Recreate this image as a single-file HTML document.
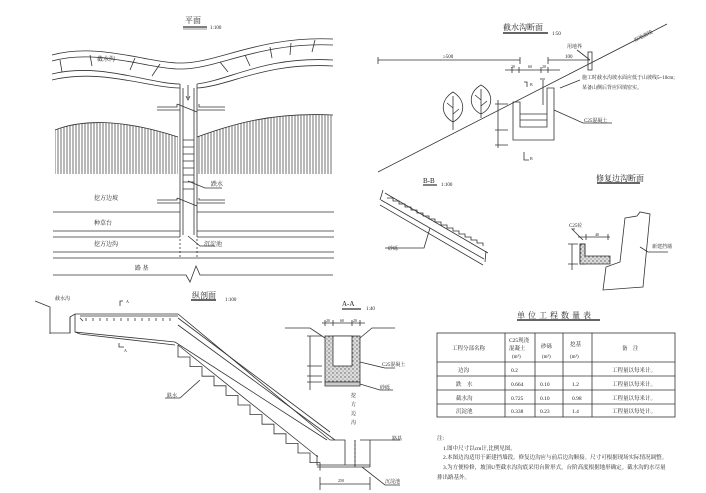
<!DOCTYPE html>
<html><head><meta charset="utf-8"><style>
html,body{margin:0;padding:0;background:#fff}
svg{display:block}
text{font-family:"Liberation Serif","Noto Serif CJK SC","Noto Sans CJK SC",serif;fill:#222}
</style></head><body>
<svg width="706" height="493" viewBox="0 0 706 493" xmlns="http://www.w3.org/2000/svg">
<defs>
<pattern id="vh" width="3" height="10" patternUnits="userSpaceOnUse"><line x1="1" y1="0" x2="1" y2="10" stroke="#333" stroke-width="0.7"/></pattern>
<pattern id="dots" width="4" height="4" patternUnits="userSpaceOnUse"><rect width="4" height="4" fill="#ddd"/><circle cx="1" cy="1" r="0.7" fill="#555"/><circle cx="3" cy="3" r="0.6" fill="#777"/></pattern>
</defs>
<g stroke="#333" stroke-width="0.8" fill="none">
<!-- PLAN -->
<line x1="183" y1="27" x2="207" y2="27" stroke-width="1.2"/>
<line x1="183" y1="29" x2="207" y2="29" stroke-width="0.6"/>
<path d="M52,55 C100,42 150,64 183,63 C220,62 260,36 333,39"/>
<path d="M52,61 C100,48 150,70 183,69 C220,68 260,42 333,45"/>
<path d="M52,74 C100,62 150,84 180,84 M197,84 C230,80 265,56 333,60"/>
<path d="M52,80 C100,68 150,88 180,88 M197,88 C230,86 265,62 333,66"/>
<path d="M60,60 L62,72 M90,55 L92,66 M135,58 L130,70 M160,64 L152,76 M220,62 L228,72 M245,55 L250,66 M270,47 L272,58 M291,43 L290,55 M315,40 L312,52"/>
<path d="M180,84 V235 M183,88 V235 M194,88 V235 M197,84 V235"/>
<path d="M180,235 V258 M197,235 V258" stroke-dasharray="2,2"/>
<path d="M188,85 V98 M186,96 L188,100 L190,96"/>
<path d="M157,107 H177 V104 M157,110 H180 M199,104 V107 H225 M197,110 H225 M177,104 L197,112"/>
<path d="M157,200 H177 V198 M157,203 H180 M199,198 V200 H225 M197,203 H225 M177,198 L197,206"/>
<path d="M183,140 H194 M183,147 H194 M183,154 H194 M183,161 H194 M183,168 H194 M183,175 H194 M183,182 H194 M183,189 H194"/>
<path d="M55,130 C80,120 120,118 178,137 V174 H55 Z" fill="url(#vh)" stroke="none"/>
<path d="M197,137 C230,125 270,112 333,115 V174 H197 Z" fill="url(#vh)" stroke="none"/>
<path d="M55,130 C80,120 120,118 178,137 M197,137 C230,125 270,112 333,115"/>
<path d="M53,212 H180 M197,212 H334 M53,231 H180 M197,231 H334 M53,237 H180 M197,237 H334 M53,252 H334 M53,258 H334"/>
<path d="M53,275 H186 L190,282 L196,266 L200,275 H333"/>
<path d="M188,236 L200,246 H215 M188,181 L205,188 H222"/>
<!-- CROSS SECTION 截水沟 -->
<line x1="503" y1="33" x2="548" y2="33" stroke-width="1.5"/>
<line x1="378" y1="172" x2="667" y2="24"/>
<path d="M378,57 V64 M378,60 H520 M520,57 V64 M548,57 V64 M548,60 H590"/>
<path d="M505,70 H560 M512,67 V73 M519,67 V73 M541,67 V73 M548,67 V73"/>
<rect x="588" y="52" width="4" height="18"/>
<path d="M577,50 L590,60"/>
<path d="M513,102 V140 H554 V88 L547,88 V127 H520 V102 Z"/>
<path d="M520,114 H547 M520,120 H547"/>
<path d="M554,110 L583,123 H612 M560,88 L580,80"/>
<path d="M495,104 H508 M495,130 H508 M495,145 H508 M498,100 V148 M540,79 H545 M543,80 V105"/>
<path d="M524,82 H527 V87 M524,152 V160 H529"/>
<path d="M453,92 C440,100 440,115 453,122 C466,115 466,100 453,92 Z M453,96 V130 M453,108 L447,103 M453,114 L459,109"/>
<path d="M481,85 C468,92 468,108 481,114 C494,108 494,92 481,85 Z M481,89 V118 M481,100 L475,95 M481,106 L487,101"/>
<!-- B-B -->
<line x1="423" y1="185" x2="437" y2="185" stroke-width="1.2"/>
<path d="M385,193 L488,253 M381,200 L484,259 M380,205 L483,265 M383,190 L380,200 M486,251 L485,262"/>
<path d="M387,198 h6 v3 h6 v3 h6 v3 h6 v3 h6 v3 h6 v3 h6 v3 h6 v3 h6 v3 h6 v3 h6 v3 h6 v3 h6 v3 h6 v3 h6 v3 h6 v3"/>
<path d="M430,228 L424,248 H385"/>
<!-- 修复边沟 -->
<line x1="597" y1="183" x2="640" y2="183" stroke-width="1.5"/>
<path d="M625,218 L637,216 L640,212 L650,214 L643,287 L603,290 L606,267 L620,262 Z"/>
<path d="M640,247 L648,252 H668"/>
<rect x="580" y="244" width="5" height="20" fill="url(#dots)"/>
<rect x="580" y="256" width="30" height="8" fill="url(#dots)" stroke="none"/>
<path d="M580,244 H585 V256 H610 V264 H580 Z"/>
<path d="M575,229 H572 L583,240 M578,237 H610 M586,234 V240 M608,234 V240 M568,244 H578 M568,264 H578 M572,244 V270"/>
<!-- LONGITUDINAL -->
<line x1="191" y1="300" x2="216" y2="300" stroke-width="1.5"/>
<path d="M35,301 L50,307 V333 H70 V317 L75,314 H178 L330,440"/>
<path d="M50,333 V334 M70,317 V333 M75,314 V332 L175,342 L327,440 M80,316 H178 M75,332 L80,334 L175,345"/>
<path d="M80,318 l3,3 M86,318 v3 M93,318 v3 M100,318 v3 M107,318 v3 M114,318 v3 M121,318 v3 M128,318 v3 M135,318 v3 M142,318 v3 M149,318 v3 M156,318 v3 M163,318 v3 M170,318 v3"/>
<path d="M178,318 L330,432 M178,325 L335,440"/>
<path d="M178,345 v12 h12 v9.6 h12 v9.6 h12 v9.6 h12 v9.6 h12 v9.6 h12 v9.6 h12 v9.6 h12 v9.6 h12 v9.6 h12 v9.6 h12 v9.6 h10 v8"/>
<path d="M178,345 l140,112"/>
<path d="M330,440 H345 V465 H370 V440 M345,440 V455 M317,455 V465 H370 M317,467 H370 M360,440 H400 M370,440 V467 M355,440 V467" />
<path d="M355,440 V467" stroke-dasharray="2,2"/>
<path d="M320,477 V490 M370,477 V490 M320,484 H370"/>
<path d="M362,467 L385,485 H400"/>
<path d="M200,380 L180,398 H165 M123,301 L120,301 V306 M119,343 V347 H124"/>
<!-- A-A -->
<line x1="342" y1="309" x2="361" y2="309" stroke-width="1.2"/>
<path d="M285,328 H310 L325,338 M395,328 H372 L360,338"/>
<rect x="325" y="336" width="35" height="46" fill="url(#dots)"/>
<rect x="333" y="336" width="19" height="30" fill="#fff" stroke="#333"/>
<path d="M325,382 H360 V386 H325 Z" fill="#ccc"/>
<path d="M322,323 H365 M325,320 V326 M333,320 V326 M352,320 V326 M360,320 V326"/>
<path d="M310,336 V390 M307,336 H322 M307,366 H322 M307,376 H322 M307,382 H322"/>
<path d="M360,362 L385,368 H395 M360,384 L380,390 H393"/>
<!-- TABLE -->
<line x1="517" y1="320" x2="600" y2="320" stroke-width="1.5"/>
<rect x="437" y="333" width="238" height="84"/>
<path d="M437,362 H675 M437,376 H675 M437,390 H675 M437,404 H675 M505,333 V417 M535,333 V417 M563,333 V417 M592,333 V417"/>
</g>
<g font-size="6">
<text x="185" y="23" font-size="8">平面</text><text x="210" y="29" font-size="5">1:100</text>
<text x="97" y="61">截水沟</text>
<text x="94" y="200">挖方边坡</text><text x="94" y="225">种草台</text><text x="94" y="246">挖方边沟</text>
<text x="135" y="270">路 基</text>
<text x="211" y="186">跌水</text><text x="204" y="246">沉淀池</text>
<text x="503" y="30" font-size="8">截水沟断面</text><text x="552" y="35" font-size="5">1:50</text>
<text x="443" y="58" font-size="5">≥500</text><text x="565" y="58" font-size="5">100</text>
<text x="511" y="68" font-size="4">20</text><text x="528" y="68" font-size="4">60</text><text x="542" y="68" font-size="4">20</text>
<text x="567" y="48" font-size="5">用地界</text>
<text x="635" y="42" font-size="5" transform="rotate(-27 635 42)">原地面线</text>
<text x="582" y="79" font-size="5">施工时截水沟坡水面应低于山坡线5~10cm;</text>
<text x="582" y="89" font-size="5">某备山侧后背应回填密实。</text>
<text x="584" y="122" font-size="5">C25混凝土</text>
<text x="530" y="86" font-size="4">B</text><text x="530" y="160" font-size="4">B</text>
<text x="423" y="183" font-size="7">B-B</text><text x="441" y="186" font-size="5">1:100</text>
<text x="388" y="250" font-size="5">砂砾</text>
<text x="596" y="181" font-size="8">修复边沟断面</text>
<text x="569" y="227" font-size="5">C25砼</text>
<text x="595" y="236" font-size="4">40</text>
<text x="652" y="248" font-size="5">新建挡墙</text>
<text x="192" y="298" font-size="8">纵剖面</text><text x="225" y="301" font-size="5">1:100</text>
<text x="55" y="300" font-size="5">截水沟</text>
<text x="126" y="303" font-size="4">A</text><text x="124" y="352" font-size="4">A</text>
<text x="167" y="397" font-size="5">跌水</text>
<text x="351" y="397" font-size="5">挖</text><text x="351" y="406" font-size="5">方</text><text x="351" y="415" font-size="5">边</text><text x="351" y="424" font-size="5">沟</text>
<text x="392" y="440" font-size="5">路基</text>
<text x="338" y="482" font-size="4">250</text>
<text x="385" y="483" font-size="5">沉淀池</text>
<text x="342" y="306" font-size="7">A-A</text><text x="366" y="310" font-size="5">1:40</text>
<text x="326" y="322" font-size="4">20</text><text x="340" y="322" font-size="4">60</text><text x="353" y="322" font-size="4">20</text>
<text x="382" y="366" font-size="5">C25混凝土</text><text x="380" y="389" font-size="5">砂砾</text>
<text x="517" y="318" font-size="8" letter-spacing="3">单位工程数量表</text>
<text x="452" y="350" font-size="5.5">工程分部名称</text>
<text x="509" y="342" font-size="5.5">C25现浇</text><text x="509" y="350" font-size="5.5">混凝土</text><text x="512" y="358" font-size="5">(m³)</text>
<text x="541" y="348" font-size="5.5">砂砾</text><text x="542" y="358" font-size="5">(m³)</text>
<text x="570" y="346" font-size="5.5">挖基</text><text x="570" y="358" font-size="5">(m³)</text>
<text x="622" y="350" font-size="5.5">备　注</text>
<text x="458" y="372" font-size="5.5">边沟</text><text x="511" y="372" font-size="5.5">0.2</text><text x="612" y="372" font-size="5.5">工程量以每米计。</text>
<text x="456" y="386" font-size="5.5">跌　水</text><text x="511" y="386" font-size="5.5">0.664</text><text x="540" y="386" font-size="5.5">0.10</text><text x="572" y="386" font-size="5.5">1.2</text><text x="612" y="386" font-size="5.5">工程量以每米计。</text>
<text x="456" y="400" font-size="5.5">截水沟</text><text x="511" y="400" font-size="5.5">0.725</text><text x="540" y="400" font-size="5.5">0.10</text><text x="572" y="400" font-size="5.5">0.98</text><text x="612" y="400" font-size="5.5">工程量以每米计。</text>
<text x="456" y="413" font-size="5.5">沉淀池</text><text x="511" y="413" font-size="5.5">0.338</text><text x="540" y="413" font-size="5.5">0.23</text><text x="572" y="413" font-size="5.5">1.4</text><text x="612" y="413" font-size="5.5">工程量以每处计。</text>
<text x="437" y="440" font-size="5.5">注:</text>
<text x="443" y="450" font-size="5.5">1.图中尺寸以cm计,比例见图。</text>
<text x="443" y="459" font-size="5.5">2.本图边沟适用于新建挡墙段。修复边沟应与前后边沟顺接。尺寸可根据现场实际情况调整。</text>
<text x="443" y="469" font-size="5.5">3.为方便检修，坡顶U型截水沟沟底采用台阶形式，台阶高度根据地形确定。截水沟的水尽量</text>
<text x="437" y="479" font-size="5.5">排出路基外。</text>
</g>
</svg>
</body></html>
